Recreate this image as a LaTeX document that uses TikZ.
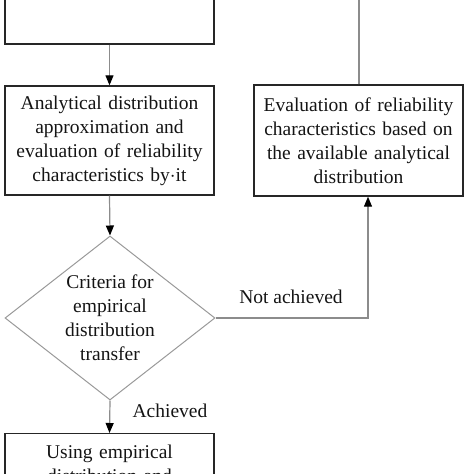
\documentclass[tikz,border=0pt]{standalone}
\usepackage{fontspec}
\setmainfont{Liberation Serif}
\usetikzlibrary{shapes.geometric,arrows.meta}
\begin{document}
\begin{tikzpicture}[x=1pt,y=-1pt,
  every node/.style={text=black!92},
  txt/.style={font=\fontsize{19.5}{24}\selectfont},
  procbox/.style={txt,draw=black!85,line width=1.4pt,minimum width=209pt,minimum height=109pt,
    text width=205pt,inner xsep=2pt,inner ysep=0pt,align=center},
  decision/.style={txt,diamond,draw=black!40,line width=1pt,minimum width=210pt,minimum height=164pt,
    aspect=1.28,inner sep=0pt,align=center},
  conn/.style={draw=black!45,line width=1.2pt},
  arr/.style={conn,-{Triangle[width=8pt,length=10pt,black]}},
  lbl/.style={txt,inner sep=0pt}]
\clip (0,0) rectangle (474,474);
\node[procbox,minimum height=64pt] (top) at (109.5,12) {};
\node[procbox] (approx) at (109.5,140.5) {Analytical distribution\\approximation and\\evaluation of reliability\\characteristics by$\cdot$it};
\node[procbox,minimum height=111pt] (eval) at (358.5,140.5) {Evaluation of reliability\\characteristics based on\\the available analytical\\distribution};
\node[decision] (crit) at (110,318) {Criteria for\\empirical\\distribution\\transfer};
\node[procbox,anchor=north,minimum height=0pt,inner ysep=11pt] (emp) at (109.5,433) {Using empirical\\distribution and};
\coordinate (topend) at (359,-5);
\coordinate (bend) at (368,318);
\draw[arr] (top.south) -- (approx.north);
\draw[arr] (approx.south) -- (crit.north);
\draw[arr] (crit.south) -- (emp.north);
\draw[conn] (eval.north -| topend) -- (topend);
\draw[arr] (crit.east) -- (bend) -- (bend |- eval.south);
\node[lbl] (na) at (291,297) {Not achieved};
\node[lbl] (ach) at (170,411) {Achieved};
\end{tikzpicture}
\end{document}
